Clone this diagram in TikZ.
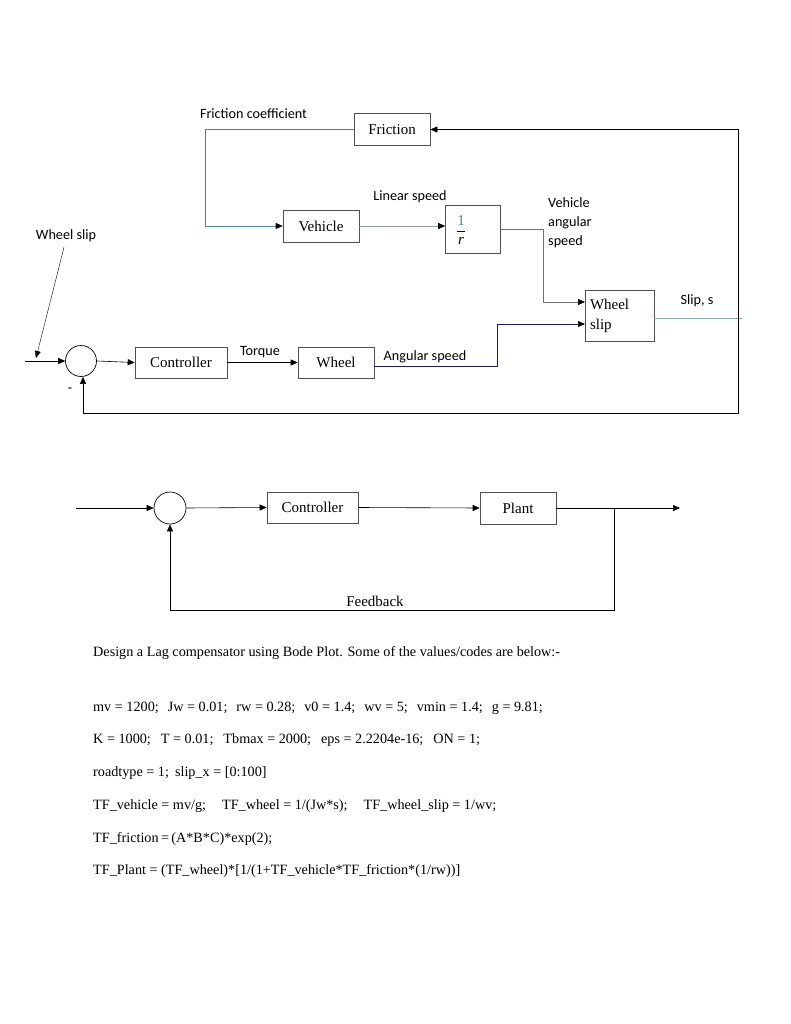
\documentclass[tikz,border=0pt]{standalone}
\usepackage{fontspec}
\setmainfont{Liberation Serif}
\newfontfamily\labfont{Carlito}
\usetikzlibrary{arrows.meta}
\definecolor{tealline}{RGB}{70,135,140}
\definecolor{greyline}{RGB}{140,155,165}
\definecolor{darkgrey}{RGB}{110,110,110}
\definecolor{navyline}{RGB}{30,30,95}
\definecolor{slipline}{RGB}{140,175,180}
\definecolor{boxline}{RGB}{80,80,80}
\begin{document}
\begin{tikzpicture}[x=1pt,y=-1pt,
  blk/.style={draw=boxline, line width=0.6pt, inner sep=0pt, font=\fontsize{15}{20}\selectfont},
  sumc/.style={draw=black, circle, line width=0.7pt, inner sep=0pt},
  lab/.style={font=\labfont\fontsize{14.2}{19}\selectfont, inner sep=0pt},
  txt/.style={font=\fontsize{14.2}{17}\selectfont, anchor=west, inner sep=0pt},
  conn/.style={line width=0.6pt},
  arr/.style={conn, -{Triangle[length=7pt,width=6pt,color=black]}},
  barr/.style={conn, {Triangle[length=7pt,width=6pt,color=black]}-{Triangle[length=7pt,width=6pt,color=black]}}]
\useasboundingbox (0,0) rectangle (791,1024);
\fill[white] (0,0) rectangle (791,1024);

% ---------- top diagram ----------
\node[blk, minimum width=76pt, minimum height=32pt] (fric) at (392,129.5) {Friction\hspace{4pt}};
\node[blk, minimum width=76pt, minimum height=32pt] (veh) at (321,226) {Vehicle\hspace{3pt}};
\node[blk, minimum width=55pt, minimum height=48pt] (rbox) at (473,229) {};
\node[inner sep=0pt, font=\fontsize{15}{18}\selectfont] (frac) at (461,230) {$\displaystyle\frac{\textcolor{tealline}{\mathrm{1}}}{\textit{r}}$};
\node[blk, minimum width=69pt, minimum height=51pt, align=left, text width=59pt] (ws) at (619.5,316) {Wheel\\slip};
\node[sumc, minimum size=31pt] (sum) at (81,361) {};
\node[blk, minimum width=92pt, minimum height=31pt] (ctrl) at (181,362.5) {Controller\hspace{3pt}};
\node[blk, minimum width=76pt, minimum height=31pt] (whl) at (336,362.5) {Wheel\hspace{4pt}};

\node[lab] (lfc) at (253.5,114) {Friction coefficient};
\node[lab] (lls) at (410,197) {Linear speed};
\node[lab, anchor=north west, align=left] (lvas) at (548,197) {Vehicle\\angular\\speed};
\node[lab] (lslip) at (697,301) {Slip, s};
\node[lab] (ltq) at (260,352) {Torque};
\node[lab] (las) at (425,357) {Angular speed};
\node[lab] (lws) at (66,236) {Wheel slip};
\node[lab] (lminus) at (70,390) {-};

\coordinate (fcL) at (205,129.5);
\coordinate (rR) at (543,229.5);
\coordinate (ws1) at (585,302);
\coordinate (ws2) at (585,324);
\coordinate (wsR) at (742,318);
\coordinate (wa) at (497,366);
\coordinate (rt) at (738,129.5);
\coordinate (rb) at (738,413);
\coordinate (in1) at (25,361);
\coordinate (wstip) at (36,358);

\draw[arr, draw=tealline] (fric.west) -- (fcL) |- (veh.west);
\draw[arr, draw=greyline] (veh.east) -- (veh.east -| rbox.west);
\draw[arr, draw=darkgrey] (rbox.east |- rR) -- (rR) |- (ws1);
\draw[arr, draw=navyline] ([yshift=-3.5pt]whl.east) -- (wa) |- (ws2);
\draw[conn, draw=slipline] (ws.east |- wsR) -- (wsR);
\draw[barr] (fric.east) -- (rt) -- (rb) -| ([xshift=2pt]sum.south);
\draw[arr] (in1) -- (sum.west);
\draw[arr, line width=0.4pt] ([xshift=-2pt,yshift=-5pt]lws.south) -- (wstip);
\draw[arr] (sum.east) -- (ctrl.west);
\draw[arr] (ctrl.east) -- (whl.west);

% ---------- bottom diagram ----------
\node[sumc, minimum size=32pt] (sum2) at (170,508) {};
\node[blk, minimum width=91pt, minimum height=31pt] (ctrl2) at (312.5,507.5) {Controller\hspace{5pt}};
\node[blk, minimum width=76pt, minimum height=32pt] (plant) at (518,508) {Plant\hspace{12pt}};
\node[inner sep=0pt, font=\fontsize{15}{18}\selectfont] (lfb) at (375,601) {Feedback};

\coordinate (in2) at (76,508);
\coordinate (out2) at (680,508);
\coordinate (fb1) at (614,508);
\coordinate (fb2) at (614,610);

\draw[arr] (in2) -- (sum2.west);
\draw[arr] (sum2.east) -- (ctrl2.west);
\draw[arr] (ctrl2.east) -- (plant.west);
\draw[arr] (plant.east) -- (out2);
\draw[arr] (fb1) -- (fb2) -| (sum2.south);

% ---------- text ----------
\node[txt] (t0) at (93,653) {Design a Lag compensator using Bode Plot. Some of the values/codes are below:-};
\node[txt] (t1) at (93,708) {mv = 1200;\hspace{9pt}Jw = 0.01;\hspace{9pt}rw = 0.28;\hspace{9pt}v0 = 1.4;\hspace{9pt}wv = 5;\hspace{9pt}vmin = 1.4;\hspace{9pt}g = 9.81;};
\node[txt] (t2) at (93,740) {K = 1000;\hspace{10pt}T = 0.01;\hspace{10pt}Tbmax = 2000;\hspace{10pt}eps = 2.2204e-16;\hspace{10pt}ON = 1;};
\node[txt] (t3) at (93,773) {roadtype = 1;\hspace{6pt}slip\_x = [0:100]};
\node[txt] (t4) at (93,806) {TF\_vehicle = mv/g;\hspace{16pt}TF\_wheel = 1/(Jw*s);\hspace{16pt}TF\_wheel\_slip = 1/wv;};
\node[txt] (t5) at (93,839) {TF\_friction\,=\,(A*B*C)*exp(2);};
\node[txt] (t6) at (93,871) {TF\_Plant = (TF\_wheel)*[1/(1+TF\_vehicle*TF\_friction*(1/rw))]};
\end{tikzpicture}
\end{document}
